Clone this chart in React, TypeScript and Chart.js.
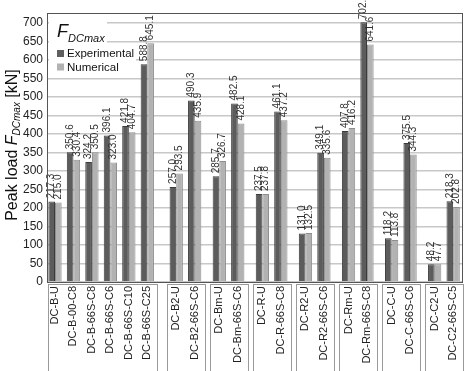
import { useEffect, useRef } from 'react';
import { Chart, registerables } from 'chart.js';

Chart.register(...registerables);

const specimenLabels = [
  'DC-B-U', 'DC-B-00-C8', 'DC-B-66S-C8', 'DC-B-66S-C6', 'DC-B-66S-C10', 'DC-B-66S-C25',
  'DC-B2-U', 'DC-B2-66S-C6',
  'DC-Bm-U', 'DC-Bm-66S-C6',
  'DC-R-U', 'DC-R-66S-C8',
  'DC-R2-U', 'DC-R2-66S-C6',
  'DC-Rm-U', 'DC-Rm-66S-C8',
  'DC-C-U', 'DC-C-66S-C6',
  'DC-C2-U', 'DC-C2-66S-C5',
];
const groupSizes = [6, 2, 2, 2, 2, 2, 2, 2];

const experimental = [
  217.3, 350.6, 324.2, 396.1, 421.8, 588.8,
  257.0, 490.3,
  285.7, 482.5,
  237.5, 461.1,
  131.0, 349.1,
  407.8, 702.1,
  118.2, 375.5,
  48.2, 218.3,
];
const numerical = [
  215.0, 330.4, 350.5, 323.0, 404.7, 645.1,
  293.5, 435.9,
  326.7, 428.1,
  237.8, 437.2,
  132.5, 335.6,
  416.2, 641.6,
  113.8, 344.3,
  47.7, 202.8,
];
const yTickValues = [0, 50, 100, 150, 200, 250, 300, 350, 400, 450, 500, 550, 600, 650, 700];

const FONT = '"Liberation Sans", Arial, sans-serif';

// slot positions: 3 units within a group, wider step between groups
const xPos: number[] = [];
const groupRanges: [number, number][] = [];
{
  let p = 0;
  let idx = 0;
  groupSizes.forEach((n, g) => {
    const start = idx;
    for (let j = 0; j < n; j++) {
      xPos.push(p);
      idx++;
      p += j < n - 1 ? 3 : g === 0 ? 4.7 : 4;
    }
    groupRanges.push([start, idx - 1]);
  });
}

const decorPlugin = {
  id: 'decor',
  beforeDatasetsDraw(chart: any) {
    const { ctx, chartArea } = chart;
    const L = chartArea.left;
    ctx.save();
    ctx.fillStyle = '#ffffff';
    ctx.fillRect(L + 2, 16, 58, 31);
    ctx.fillRect(L + 2, 47, 87, 26);
    ctx.fillStyle = '#111';
    ctx.textBaseline = 'alphabetic';
    ctx.textAlign = 'left';
    ctx.font = `italic 18px ${FONT}`;
    ctx.fillText('F', L + 10, 37);
    ctx.font = `italic 11px ${FONT}`;
    ctx.fillText('DCmax', L + 21, 42);
    const items = [
      { label: 'Experimental', fill: '#5f5f5f', y: 53.5 },
      { label: 'Numerical', fill: '#b2b2b2', y: 67 },
    ];
    ctx.font = `11.5px ${FONT}`;
    ctx.textBaseline = 'middle';
    items.forEach((it) => {
      ctx.fillStyle = it.fill;
      ctx.fillRect(L + 10, it.y - 3.5, 7, 7);
      ctx.fillStyle = '#111';
      ctx.fillText(it.label, L + 20, it.y + 0.5);
    });
    ctx.restore();
  },
  afterDatasetsDraw(chart: any) {
    const { ctx, chartArea } = chart;
    ctx.save();
    ctx.font = `10px ${FONT}`;
    ctx.fillStyle = '#333';
    ctx.textAlign = 'left';
    ctx.textBaseline = 'middle';
    chart.data.datasets.forEach((ds: any, di: number) => {
      const meta = chart.getDatasetMeta(di);
      meta.data.forEach((el: any, i: number) => {
        const v = ds.data[i].y as number;
        ctx.save();
        ctx.translate(el.x, el.y - 3);
        ctx.rotate(-Math.PI / 2);
        ctx.fillText(v.toFixed(1), 0, 0);
        ctx.restore();
      });
    });
    ctx.strokeStyle = '#555';
    ctx.lineWidth = 1;
    ctx.strokeRect(chartArea.left + 0.5, chartArea.top + 0.5, chartArea.right - chartArea.left - 1, chartArea.bottom - chartArea.top);
    ctx.restore();
  },
  afterDraw(chart: any) {
    const { ctx, chartArea } = chart;
    const xs = chart.scales.x;
    ctx.save();
    ctx.strokeStyle = '#9a9a9a';
    ctx.lineWidth = 1;
    groupRanges.forEach(([a, b]) => {
      let l = xs.getPixelForValue(xPos[a] - 1.55);
      let r = xs.getPixelForValue(xPos[b] + 1.55);
      l = Math.max(l, chartArea.left + 1);
      r = Math.min(r, chartArea.right);
      ctx.strokeRect(Math.round(l) + 0.5, chartArea.bottom + 2.5, Math.round(r - l), chart.height);
    });
    const cx = 13;
    const cy = 145;
    const parts = [
      { t: 'Peak load ', f: `16px ${FONT}`, dy: 0 },
      { t: 'F', f: `italic 16px ${FONT}`, dy: 0 },
      { t: 'DCmax', f: `italic 10px ${FONT}`, dy: 4 },
      { t: ' [kN]', f: `16px ${FONT}`, dy: 0 },
    ];
    let total = 0;
    parts.forEach((p) => {
      ctx.font = p.f;
      total += ctx.measureText(p.t).width;
    });
    ctx.translate(cx, cy);
    ctx.rotate(-Math.PI / 2);
    ctx.fillStyle = '#111';
    ctx.textAlign = 'left';
    ctx.textBaseline = 'middle';
    let x = -total / 2;
    parts.forEach((p) => {
      ctx.font = p.f;
      ctx.fillText(p.t, x, p.dy);
      x += ctx.measureText(p.t).width;
    });
    ctx.restore();
  },
};

export default function App() {
  const ref = useRef<HTMLCanvasElement>(null);
  useEffect(() => {
    document.body.style.margin = '0';
    const chart = new Chart(ref.current as HTMLCanvasElement, {
      type: 'bar',
      data: {
        datasets: [
          {
            label: 'Experimental',
            data: experimental.map((v, i) => ({ x: xPos[i], y: v })),
            backgroundColor: '#5c5c5c',
            borderColor: '#3c3c3c',
            borderWidth: 1,
          },
          {
            label: 'Numerical',
            data: numerical.map((v, i) => ({ x: xPos[i], y: v })),
            backgroundColor: '#b2b2b2',
            borderColor: '#8e8e8e',
            borderWidth: 1,
          },
        ],
      } as any,
      options: {
        responsive: false,
        animation: false,
        layout: { padding: { top: 13, right: 11, left: 0, bottom: 0 } },
        datasets: { bar: { categoryPercentage: 0.72, barPercentage: 1 } },
        plugins: { legend: { display: false }, tooltip: { enabled: false } },
        scales: {
          x: {
            type: 'linear',
            min: -1.3,
            max: 66.3,
            offset: false,
            grid: { display: false, drawTicks: false, offset: false },
            border: { display: false },
            afterBuildTicks: (s: any) => {
              s.ticks = xPos.map((v) => ({ value: v }));
            },
            afterFit: (s: any) => {
              s.height = 89;
            },
            ticks: {
              autoSkip: false,
              minRotation: 90,
              maxRotation: 90,
              padding: 4,
              color: '#222',
              font: { family: FONT, size: 11 },
              callback: (value: any) => {
                const i = xPos.indexOf(Number(value));
                return i >= 0 ? specimenLabels[i] : '';
              },
            },
          },
          y: {
            min: 0,
            max: 727,
            grid: { color: '#c8c8c8', lineWidth: 1.5, drawTicks: false },
            border: { display: false },
            afterBuildTicks: (s: any) => {
              s.ticks = yTickValues.map((v) => ({ value: v }));
            },
            afterFit: (s: any) => {
              s.width = 47;
            },
            ticks: {
              padding: 4,
              color: '#222',
              font: { family: FONT, size: 12 },
            },
          },
        },
      } as any,
      plugins: [decorPlugin],
    });
    return () => chart.destroy();
  }, []);
  return <canvas ref={ref} width={474} height={371} style={{ display: 'block' }} />;
}
